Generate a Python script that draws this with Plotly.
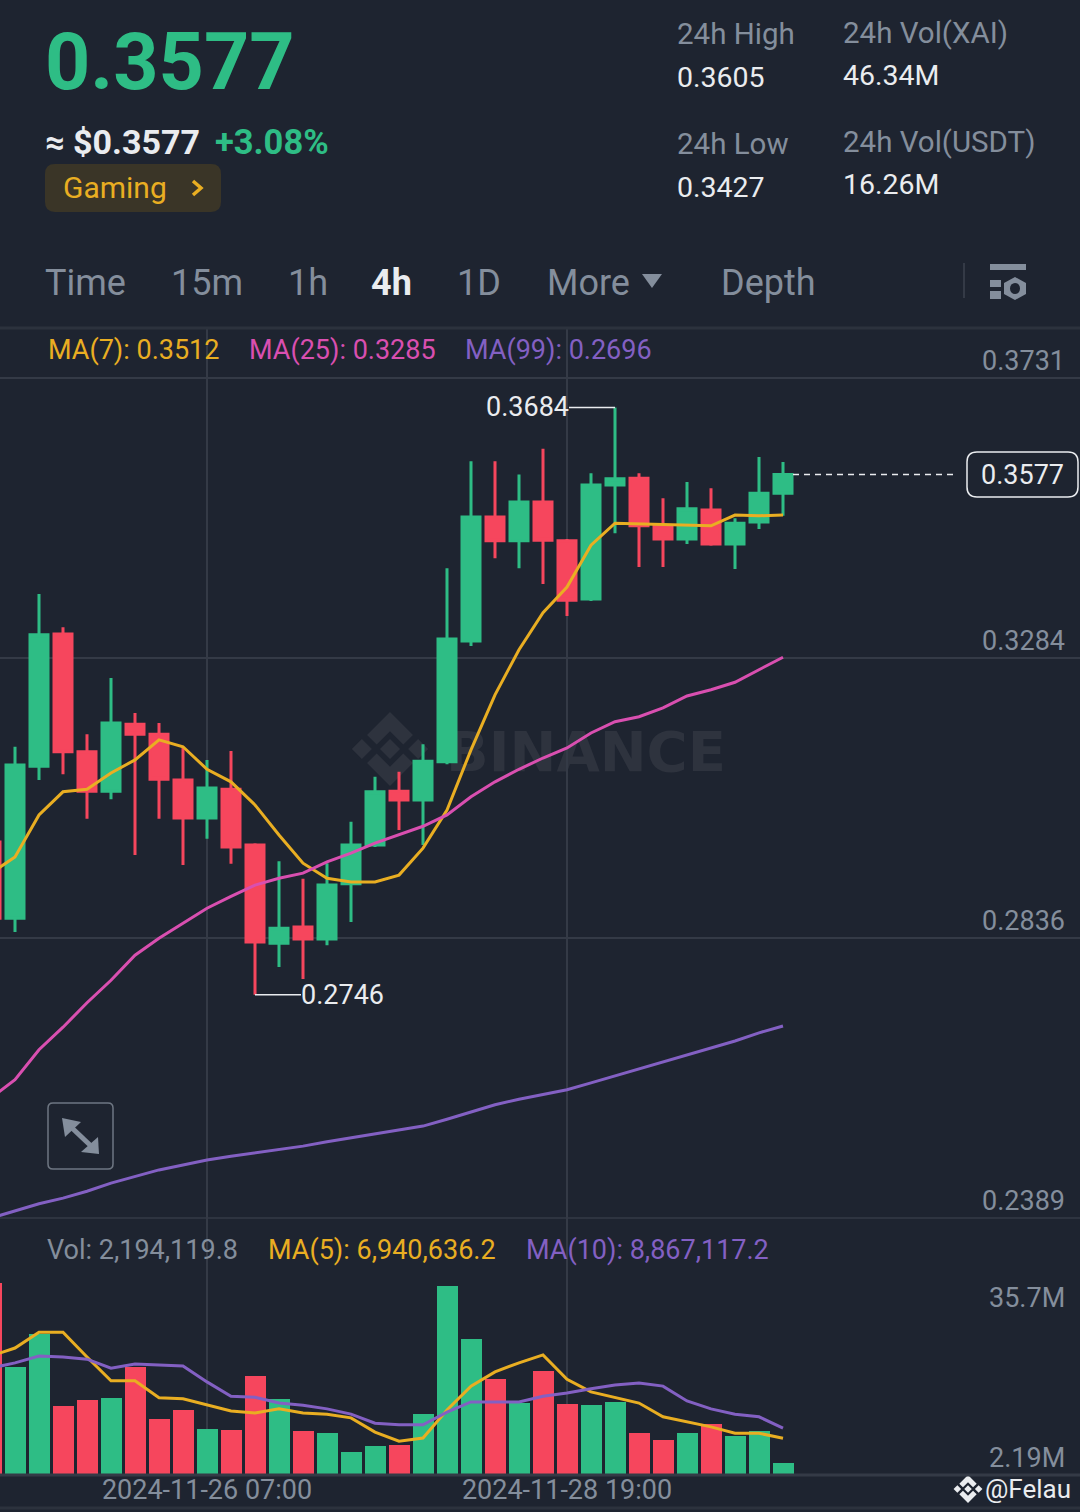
import pandas as pd
import plotly.graph_objects as go

# ---------- data ----------
dates = pd.date_range("2024-11-24 19:00", periods=34, freq="4h").strftime("%Y-%m-%d %H:%M").tolist()
opens = [.2990,.2868,.3111,.3322,.3134,.3071,.3178,.3162,.3089,.3028,.3074,.2985,.2828,.2854,.2835,.2923,.2985,.3071,.3057,.3118,.3311,.3509,.3471,.3533,.3471,.3378,.3560,.3571,.3495,.3474,.3520,.3466,.3501,.3547]
closes = [.2868,.3113,.3321,.3134,.3071,.3180,.3162,.3090,.3028,.3076,.2982,.2830,.2852,.2835,.2921,.2985,.3070,.3057,.3119,.3314,.3509,.3471,.3533,.3472,.3376,.3560,.3570,.3495,.3474,.3522,.3466,.3499,.3547,.3577]
highs = [.3001,.3142,.3386,.3333,.3162,.3252,.3196,.3180,.3140,.3121,.3135,.2988,.2959,.2931,.2956,.3022,.3094,.3102,.3146,.3427,.3598,.3598,.3577,.3618,.3474,.3579,.3684,.3579,.3539,.3565,.3555,.3507,.3605,.3597]
lows = [.2857,.2846,.3089,.3098,.3027,.3058,.2969,.3027,.2953,.2995,.2955,.2746,.2790,.2771,.2825,.2862,.2982,.3009,.2985,.3114,.3303,.3443,.3427,.3402,.3351,.3375,.3483,.3429,.3429,.3466,.3463,.3426,.3490,.3511]
ma7 = [.2940,.2966,.3033,.3070,.3074,.3100,.3121,.3153,.3142,.3106,.3086,.3049,.3001,.2956,.2932,.2926,.2926,.2937,.2980,.3041,.3137,.3225,.3297,.3356,.3397,.3464,.3499,.3498,.3496,.3496,.3495,.3512,.3511,.3512]
ma25 = [.2581,.2610,.2658,.2694,.2733,.2769,.2809,.2836,.2860,.2884,.2903,.2921,.2932,.2940,.2958,.2972,.2988,.3001,.3015,.3033,.3062,.3086,.3106,.3124,.3140,.3164,.3182,.3190,.3204,.3223,.3233,.3245,.3265,.3285]
ma99 = [.2389,.2400,.2412,.2421,.2432,.2445,.2456,.2466,.2474,.2482,.2488,.2493,.2498,.2504,.2511,.2517,.2523,.2530,.2536,.2547,.2558,.2570,.2579,.2586,.2594,.2605,.2616,.2627,.2638,.2650,.2661,.2672,.2685,.2696]
volumes = [36.3,20.4,26.7,13.0,14.2,14.6,20.4,10.6,12.3,8.7,8.5,18.7,14.4,8.3,7.9,4.3,5.5,5.7,11.5,35.7,25.7,18.1,13.6,19.7,13.4,13.2,13.8,7.9,6.6,7.9,9.6,7.4,8.3,2.19]
vol_ma5 = [22.5,24.0,27.0,27.0,22.3,17.8,17.8,14.6,14.4,13.2,12.1,11.7,12.5,11.7,11.5,10.8,8.1,6.4,7.0,12.3,16.8,19.5,21.2,22.7,18.1,15.7,14.7,13.6,11.0,10.0,9.1,7.9,7.9,6.94]
vol_ma10 = [20.2,21.2,22.5,22.3,21.9,20.2,21.0,20.8,20.6,17.6,14.9,14.7,13.6,13.2,12.5,11.5,9.8,9.5,9.5,11.9,13.8,13.8,13.8,14.9,15.5,16.3,17.0,17.4,16.8,14.0,12.5,11.5,11.0,8.87]
price_ticks = [.3731,.3284,.2836,.2389]
time_ticks = ["2024-11-26 07:00","2024-11-28 19:00"]

# ---------- style ----------
W, H = 1080, 1512
BG = "#1e2430"; GRID = "#343a46"; SEP = "#2c323d"; GREY = "#848e9c"; WHITE = "#eaecef"
GREEN = "#2ebd85"; RED = "#f6465d"; YEL2 = "#e9ae22"; PINK = "#d94fb0"; PUR = "#8360c3"
WM = "#2e333e"
FONT = "Roboto"

def X(x): return x / W
def Y(y): return 1 - y / H
def path(pts, close=True):
    s = "M" + " L".join(f"{X(a):.5f},{Y(b):.5f}" for a, b in pts)
    return s + (" Z" if close else "")

anns, shapes = [], []
def text(t, x, y, size, color, anchor="left", bold=False):
    nudge = {"left": -3, "right": 3, "center": 0}[anchor]
    anns.append(dict(text=f"<b>{t}</b>" if bold else t, x=X(x + nudge), y=Y(y), xref="paper", yref="paper",
                     xanchor=anchor, yanchor="middle", showarrow=False,
                     font=dict(family=FONT, size=size, color=color)))
def poly(pts, color, layer="above"):
    shapes.append(dict(type="path", path=path(pts), xref="paper", yref="paper", fillcolor=color,
                       line=dict(width=0), layer=layer))
def stroke(pts, color, w, layer="above", dash=None):
    shapes.append(dict(type="path", path=path(pts, False), xref="paper", yref="paper", fillcolor="rgba(0,0,0,0)",
                       line=dict(color=color, width=w, dash=dash or "solid"), layer=layer))
def rrect(x0, y0, x1, y1, r, fill, line=None, lw=0):
    p = (f"M{X(x0+r):.5f},{Y(y0):.5f} L{X(x1-r):.5f},{Y(y0):.5f} Q{X(x1):.5f},{Y(y0):.5f} {X(x1):.5f},{Y(y0+r):.5f} "
         f"L{X(x1):.5f},{Y(y1-r):.5f} Q{X(x1):.5f},{Y(y1):.5f} {X(x1-r):.5f},{Y(y1):.5f} "
         f"L{X(x0+r):.5f},{Y(y1):.5f} Q{X(x0):.5f},{Y(y1):.5f} {X(x0):.5f},{Y(y1-r):.5f} "
         f"L{X(x0):.5f},{Y(y0+r):.5f} Q{X(x0):.5f},{Y(y0):.5f} {X(x0+r):.5f},{Y(y0):.5f} Z")
    shapes.append(dict(type="path", path=p, xref="paper", yref="paper", fillcolor=fill,
                       line=dict(color=line or fill, width=lw)))
def logo(cx, cy, s, color, layer="above"):
    d = lambda x, y, r: poly([(cx+x*s, cy+y*s-r*s), (cx+x*s+r*s, cy+y*s), (cx+x*s, cy+y*s+r*s), (cx+x*s-r*s, cy+y*s)], color, layer)
    d(0, 0, .27); d(-.76, 0, .27); d(.76, 0, .27)
    poly([(cx, cy-s), (cx+.62*s, cy-.38*s), (cx+.36*s, cy-.12*s), (cx, cy-.48*s), (cx-.36*s, cy-.12*s), (cx-.62*s, cy-.38*s)], color, layer)
    poly([(cx, cy+s), (cx+.62*s, cy+.38*s), (cx+.36*s, cy+.12*s), (cx, cy+.48*s), (cx-.36*s, cy+.12*s), (cx-.62*s, cy+.38*s)], color, layer)

# ---------- header ----------
text("0.3577", 46, 62, 79, GREEN, bold=True)
text("≈ $0.3577", 46, 142, 34, WHITE, bold=True)
text("+3.08%", 216, 142, 34.5, GREEN, bold=True)
rrect(45, 164, 221, 212, 10, "#3a3527")
text("Gaming", 64, 188, 30, YEL2)
stroke([(193, 181), (201, 188), (193, 195)], YEL2, 3.5)
text("24h High", 678, 34, 29.5, GREY); text("0.3605", 678, 77, 28.5, WHITE)
text("24h Low", 678, 144, 29.5, GREY); text("0.3427", 678, 187, 28.5, WHITE)
text("24h Vol(XAI)", 844, 33, 29.5, GREY); text("46.34M", 844, 75, 28.5, WHITE)
text("24h Vol(USDT)", 844, 142, 29.5, GREY); text("16.26M", 844, 185, 28.5, WHITE)
for t, x in [("Time", 46), ("15m", 172), ("1h", 289), ("1D", 458), ("More", 548), ("Depth", 722)]:
    text(t, x, 283, 36, GREY)
text("4h", 372, 283, 36, WHITE, bold=True)
poly([(642, 274), (662, 274), (652, 288)], GREY)
stroke([(964, 263), (964, 298)], GRID, 2)
poly([(990, 264), (1026, 264), (1026, 270), (990, 270)], GREY)
poly([(990, 280), (1001, 280), (1001, 287), (990, 287)], GREY)
poly([(990, 291), (1001, 291), (1001, 299), (990, 299)], GREY)
poly([(1015, 277), (1026, 283), (1026, 294), (1015, 300), (1004, 294), (1004, 283)], GREY)
shapes.append(dict(type="circle", xref="paper", yref="paper", x0=X(1010), x1=X(1020), y0=Y(294), y1=Y(283),
                   fillcolor=BG, line=dict(width=0)))

# ---------- legends and axis labels ----------
text("MA(7): 0.3512", 49, 350, 27, YEL2)
text("MA(25): 0.3285", 250, 350, 27, PINK)
text("MA(99): 0.2696", 466, 350, 27, PUR)
for p, lab_y in zip(price_ticks, [361, 641, 921, 1201]):
    text(f"{p:.4f}", 1064, lab_y, 27, GREY, "right")
text("Vol: 2,194,119.8", 48, 1250, 27, GREY)
text("MA(5): 6,940,636.2", 269, 1250, 27, YEL2)
text("MA(10): 8,867,117.2", 527, 1250, 27, PUR)
text("35.7M", 1064, 1298, 27, GREY, "right")
text("2.19M", 1064, 1458, 27, GREY, "right")
text("@Felau", 986, 1489, 26, WHITE)
logo(968, 1489, 14, WHITE)

# ---------- panes' rules ----------
stroke([(0, 328), (W, 328)], SEP, 3)
stroke([(0, 1218), (W, 1218)], GRID, 1.5)
stroke([(0, 1475), (W, 1475)], GRID, 3)
stroke([(0, 1508), (W, 1508)], SEP, 3)

# ---------- watermark (below marks) ----------
logo(390, 749, 37, WM, "below")
shapes.append(dict(type="rect", xref="paper", yref="paper", x0=X(441), x1=X(731), y0=Y(778), y1=Y(716),
                   line=dict(width=0), fillcolor="rgba(0,0,0,0)", layer="below",
                   label=dict(text="<b>BINANCE</b>", textposition="middle center",
                              font=dict(family="DejaVu Sans", size=56, color=WM))))

# ---------- expand button ----------
rrect(48, 1103, 113, 1169, 5, "rgba(0,0,0,0)", "#6e7682", 1.5)
stroke([(72, 1128), (90, 1145)], GREY, 5)
poly([(62, 1118), (81, 1122), (65, 1137)], GREY)
poly([(99, 1154), (98, 1137), (81, 1152)], GREY)

# ---------- current price ----------
shapes.append(dict(type="line", xref="x", yref="y", x0="2024-11-30 08:40", x1="2024-12-01 12:00", y0=closes[-1], y1=closes[-1],
                   line=dict(color=WHITE, width=1.5, dash="6px,5px")))
rrect(967, 452, 1078, 497, 10, BG, WHITE, 1.5)
text("0.3577", 1022, 475, 27, WHITE, "center")

# ---------- extreme labels ----------
hi = highs.index(max(highs)); lo = lows.index(min(lows))
anns.append(dict(text=f"{highs[hi]:.4f}", x=dates[hi], y=highs[hi], xref="x", yref="y", ax=-46, ay=0,
                 axref="pixel", ayref="pixel", xanchor="right", yanchor="middle", showarrow=True, arrowhead=0,
                 arrowwidth=1.5, arrowcolor=WHITE, standoff=0, startstandoff=0, borderpad=0, borderwidth=0,
                 font=dict(family=FONT, size=27, color=WHITE)))
anns.append(dict(text=f"{lows[lo]:.4f}", x=dates[lo], y=lows[lo], xref="x", yref="y", ax=46, ay=0,
                 axref="pixel", ayref="pixel", xanchor="left", yanchor="middle", showarrow=True, arrowhead=0,
                 arrowwidth=1.5, arrowcolor=WHITE, standoff=0, startstandoff=0, borderpad=0, borderwidth=0,
                 font=dict(family=FONT, size=27, color=WHITE)))

# ---------- traces ----------
fig = go.Figure()
fig.add_trace(go.Candlestick(x=dates, open=opens, high=highs, low=lows, close=closes, xaxis="x", yaxis="y",
                             increasing=dict(line=dict(color=GREEN, width=3), fillcolor=GREEN),
                             decreasing=dict(line=dict(color=RED, width=3), fillcolor=RED),
                             whiskerwidth=0, name="XAI/USDT"))
for vals, c, n in [(ma7, YEL2, "MA(7)"), (ma25, PINK, "MA(25)"), (ma99, PUR, "MA(99)")]:
    fig.add_trace(go.Scatter(x=dates, y=vals, mode="lines", line=dict(color=c, width=3), name=n, xaxis="x", yaxis="y"))
bar_colors = [GREEN if c >= o else RED for o, c in zip(opens, closes)]
fig.add_trace(go.Bar(x=dates, y=volumes, marker=dict(color=bar_colors, line=dict(width=0)), width=3.5*3600*1000,
                     name="Vol", xaxis="x2", yaxis="y2"))
for vals, c, n in [(vol_ma5, YEL2, "MA(5)"), (vol_ma10, PUR, "MA(10)")]:
    fig.add_trace(go.Scatter(x=dates, y=vals, mode="lines", line=dict(color=c, width=3), name=n, xaxis="x2", yaxis="y2"))

x_range = ["2024-11-24 20:30", "2024-12-02 08:30"]
axis_common = dict(type="date", range=x_range, tickvals=time_ticks, showgrid=True, gridcolor=GRID, gridwidth=1.5,
                   zeroline=False, showline=False, ticks="", rangeslider=dict(visible=False))
fig.update_layout(
    width=W, height=H, margin=dict(l=0, r=0, t=0, b=0, autoexpand=False),
    paper_bgcolor=BG, plot_bgcolor=BG, showlegend=False, boxgap=.25, boxgroupgap=0, bargap=0, hovermode=False,
    xaxis=dict(domain=[0, 1], anchor="y", showticklabels=False, **axis_common),
    xaxis2=dict(domain=[0, 1], anchor="y2", showticklabels=True, ticktext=time_ticks, tickangle=0, ticklabelstandoff=-4,
                tickfont=dict(family=FONT, size=27, color=GREY), **axis_common),
    yaxis=dict(domain=[Y(1218), Y(328)], range=[0.23892, 0.38109], tickvals=price_ticks, showticklabels=False,
               showgrid=True, gridcolor=GRID, gridwidth=1.5, zeroline=False, ticks=""),
    yaxis2=dict(domain=[Y(1475), Y(1218)], range=[0, 48.58], showticklabels=False, showgrid=False, zeroline=False, ticks=""),
    annotations=anns, shapes=shapes,
)
fig.write_html("out.html", config=dict(displayModeBar=False),
               post_script="document.body.style.margin='0';document.body.style.background='%s';document.documentElement.style.overflow='hidden';" % BG)
